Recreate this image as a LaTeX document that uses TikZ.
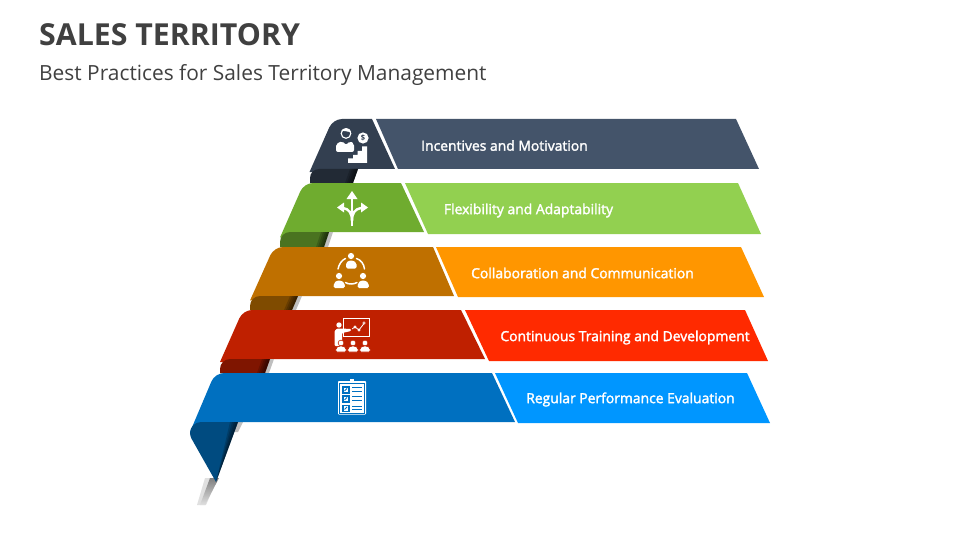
\documentclass[tikz,border=0pt]{standalone}
\usepackage{fontspec}
\setmainfont{Open Sans}
\newfontfamily\labelfont[FakeBold=2]{Open Sans}
\usetikzlibrary{positioning}

\definecolor{titlegray}{HTML}{404040}
\definecolor{slateL}{HTML}{333F50}
\definecolor{slateR}{HTML}{44546A}
\definecolor{slateF}{HTML}{222A35}
\definecolor{greenL}{HTML}{6FAC2F}
\definecolor{greenR}{HTML}{92D050}
\definecolor{greenF}{HTML}{4A7320}
\definecolor{amberL}{HTML}{BF7000}
\definecolor{amberR}{HTML}{FF9600}
\definecolor{amberF}{HTML}{7F4B00}
\definecolor{redL}{HTML}{BF2000}
\definecolor{redR}{HTML}{FF2A00}
\definecolor{redF}{HTML}{7F1500}
\definecolor{blueL}{HTML}{0070C0}
\definecolor{blueR}{HTML}{0096FF}
\definecolor{blueF}{HTML}{004B80}

\tikzset{
	bandlabel/.style={text=white, inner sep=0pt, font=\labelfont\fontsize{13.9}{16}\selectfont},
	icon/.style={fill=white, draw=none},
	iconline/.style={draw=white, line width=1.5pt, line cap=round},
	stripgray/.style={fill=black!25, draw=none}
}

% darker stripes along the right end of a fold
\newcommand{\foldedge}[4]{
	\foreach \w in {8,6,4,2} {
		\fill[black, opacity=.18] (#1-\w,#2) -- (#1,#2) -- (#3,#4) -- (#3-\w,#4) -- cycle;
	}
}

\begin{document}
\begin{tikzpicture}[x=1pt, y=-1pt]
	\useasboundingbox (0,0) rectangle (960,540);

	\node[anchor=base west, inner sep=0pt, text=titlegray, font=\bfseries\fontsize{30.3}{36}\selectfont] (title) at (39,46) {SALES TERRITORY};
	\node[anchor=base west, inner sep=0pt, text=titlegray, font=\fontsize{20.9}{24}\selectfont] (subtitle) at (39,81) {Best Practices for Sales Territory Management};

	% slate band
	\fill[slateR] (376,119) -- (736,119) -- (759,169) -- (398,169) -- cycle;
	\fill[slateL] (309.5,172) [rounded corners=9pt] -- (333,119) [sharp corners] -- (372,119) -- (395,169) -- (335,169) -- (325,173) -- cycle;
	\fill[slateF] (358,169) -- (353,183) -- (310,183) [rounded corners=9pt] -- (310,169) [sharp corners] -- cycle;
	\foldedge{358}{169}{353}{183}
	\node[bandlabel] (incent) at (504.5,145.5) {Incentives and Motivation};

	% green band
	\fill[greenR] (405,183) -- (738,183) -- (761,234) -- (428,234) -- cycle;
	\fill[greenL] (280,237.5) [rounded corners=9pt] -- (304,183) [sharp corners] -- (401,183) -- (424,232) -- (305,232) -- (295,237) -- cycle;
	\fill[stripgray] (329,232) -- (333,232) -- (328,247) -- (324,247) -- cycle;
	\fill[greenF] (329,232) -- (324,247) -- (280,247) [rounded corners=10pt] -- (280,232) [sharp corners] -- cycle;
	\foldedge{329}{232}{324}{247}
	\node[bandlabel] (flex) at (528.5,210.5) {Flexibility and Adaptability};

	% amber band
	\fill[amberR] (436,247) -- (741,247) -- (764,297) -- (458,297) -- cycle;
	\fill[amberL] (250,300.5) [rounded corners=9pt] -- (274,247) [sharp corners] -- (433,247) -- (454,296) -- (275,296) -- (265,300) -- cycle;
	\fill[stripgray] (298,296) -- (302,296) -- (296,310) -- (292,310) -- cycle;
	\fill[amberF] (298,296) -- (292,310) -- (250,310) [rounded corners=10pt] -- (250,296) [sharp corners] -- cycle;
	\foldedge{298}{296}{292}{310}
	\node[bandlabel] (collab) at (582.5,273) {Collaboration and Communication};

	% red band
	\fill[redR] (465,310) -- (745,310) -- (768,361) -- (489,361) -- cycle;
	\fill[redL] (220,362) [rounded corners=9pt] -- (243,310) [sharp corners] -- (461,310) -- (485,359) -- (245,359) -- (235,362) -- cycle;
	\fill[stripgray] (270,359) -- (274,359) -- (269,373) -- (265,373) -- cycle;
	\fill[redF] (270,359) -- (265,373) -- (220,373) [rounded corners=10pt] -- (220,359) [sharp corners] -- cycle;
	\foldedge{270}{359}{265}{373}
	\node[bandlabel] (train) at (625,337.5) {Continuous Training and Development};

	% blue band, long tail
	\fill[black!12] (205,478) -- (218,478) -- (206,505) -- (197,505) -- cycle;
	\shade[top color=black!50, bottom color=black!12] (210,478) -- (219,478) -- (205,505) -- (200,505) -- cycle;
	\fill[stripgray] (236,422) -- (243,422) -- (238,432) -- (232,432) -- cycle;
	\fill[blueR] (495,373) -- (747,373) -- (770,423) -- (518,423) -- cycle;
	\fill[blueL] (190,432) [rounded corners=9pt] -- (215,373) [sharp corners] -- (492,373) -- (515,422) -- (225,422) -- (210,430) -- cycle;
	\fill[blueF] (238,422) -- (216,482) [rounded corners=3pt] -- (190,436) [rounded corners=11pt] -- (190,422) [sharp corners] -- cycle;
	\foreach \w in {8,6,4,2} {
		\fill[black, opacity=.18] (238-\w,422) -- (238,422) -- (216,482) -- cycle;
	}
	\node[bandlabel] (review) at (630.5,399.5) {Regular Performance Evaluation};

	% icon: person, coin and stairs
	\draw[white, line width=1.1pt] (346,133.5) circle (4.8);
	\fill[icon] (341,131.5) .. controls (343,127) and (350,127) .. (351,132) .. controls (347,132) and (344,130) .. (341,131.5) -- cycle;
	\fill[icon, rounded corners=2pt] (336,152) -- (336,144) -- (342,141) -- (346,145) -- (350,141) -- (354,143.5) -- (354,152) -- cycle;
	\fill[icon] (363,138) circle (5.6);
	\node[text=slateL, inner sep=0pt, font=\bfseries\fontsize{7.5}{8}\selectfont] (coin) at (363,138) {\$};
	\fill[icon] (348,163) -- (348,158.5) -- (353,158.5) -- (353,155) -- (357.5,155) -- (357.5,151) -- (362,151) -- (362,146.5) -- (367,146.5) -- (367,163) -- cycle;

	% icon: three way arrows
	\draw[white, line width=2.6pt] (352,226) -- (352,197);
	\fill[icon] (352,191) -- (357.5,199) -- (346.5,199) -- cycle;
	\draw[white, line width=2.4pt] (352,221) .. controls (352,213) and (349,209) .. (343,208);
	\draw[white, line width=2.4pt] (352,221) .. controls (352,213) and (355,209) .. (361,208);
	\fill[icon] (337,207.5) -- (344,202.5) -- (344,212.5) -- cycle;
	\fill[icon] (368,207.5) -- (361,202.5) -- (361,212.5) -- cycle;

	% icon: people in a ring
	\fill[icon] (351,256) circle (3.1);
	\fill[icon, rounded corners=1.5pt] (346,268.5) -- (346,263) -- (349,260.5) -- (353,260.5) -- (356.5,263) -- (356.5,268.5) -- cycle;
	\fill[icon] (339,276) circle (3.1);
	\fill[icon, rounded corners=1.5pt] (333.5,288) -- (334,283) -- (337,280.5) -- (341,280.5) -- (344.5,283) -- (345,288) -- cycle;
	\fill[icon] (363,276) circle (3.1);
	\fill[icon, rounded corners=1.5pt] (357.5,288) -- (358,283) -- (361,280.5) -- (365,280.5) -- (368.5,283) -- (369,288) -- cycle;
	\draw[iconline] (338,269) .. controls (339,264) and (342,260) .. (345.5,258.5);
	\draw[iconline] (364.5,269) .. controls (364,264) and (361,260) .. (356.5,258.5);
	\draw[iconline] (345.5,282.5) .. controls (348,284.5) and (354,284.5) .. (357,282.5);

	% icon: trainer and audience
	\draw[white, line width=1pt] (343.5,318.5) rectangle (369.5,336.5);
	\draw[white, line width=.8pt] (352,329) -- (355,327) -- (359,330) -- (364,323.5);
	\draw[white, line width=.6pt] (355,327) circle (1.1) (359,330) circle (1.1) (364,323) circle (1.3);
	\fill[icon] (339,325) circle (2.7);
	\fill[icon, rounded corners=1pt] (334.5,346) -- (334.5,331) -- (337,328.5) -- (341,328.5) -- (351,329) -- (351,331) -- (342,333) -- (342,346) -- cycle;
	\foreach \px/\pname in {341/one,353/two,365/three} {
		\filldraw[white, draw=redL, line width=.6pt] (\px,343) circle (2.9);
		\filldraw[white, draw=redL, line width=.6pt, rounded corners=1.5pt] (\px-5.5,352) -- (\px-5,348) -- (\px-2,346) -- (\px+2,346) -- (\px+5,348) -- (\px+5.5,352) -- cycle;
	}

	% icon: clipboard
	\fill[icon, rounded corners=.8pt] (338,381) rectangle (366,414.5);
	\fill[icon] (346,380.5) rectangle (357,383);
	\fill[icon] (349.5,379) rectangle (353.5,381);
	\draw[blueL, line width=.6pt] (339.6,382.8) rectangle (364.4,412.8);
	\foreach \ry in {386,395,404.5} {
		\fill[blueL] (342,\ry) rectangle (349.5,\ry+7.5);
		\fill[white] (343.5,\ry+1.5) rectangle (348,\ry+6);
		\draw[blueL, line width=.9pt] (344.5,\ry+5) -- (347,\ry+2.5);
		\fill[blueL] (351.5,\ry+1) rectangle (362,\ry+2);
		\fill[blueL] (351.5,\ry+4.5) rectangle (362,\ry+5.5);
	}
\end{tikzpicture}
\end{document}
